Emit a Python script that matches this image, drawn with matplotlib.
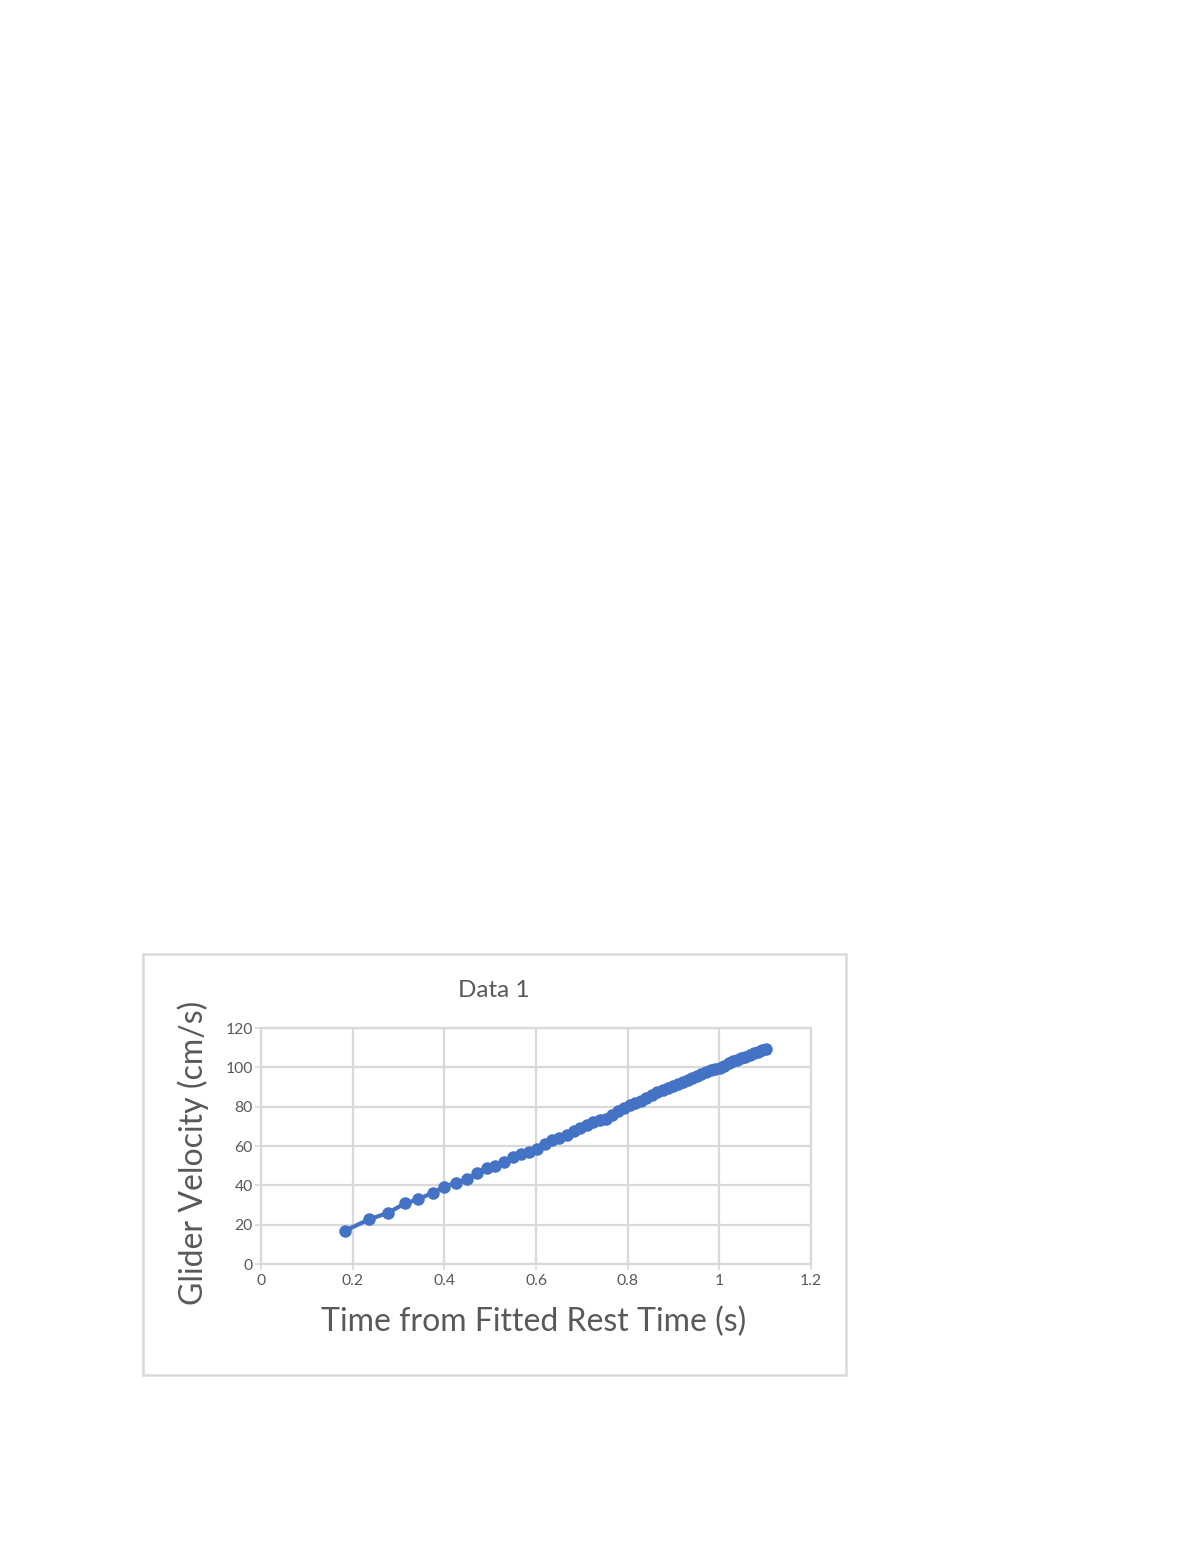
import matplotlib
matplotlib.use("Agg")
import matplotlib.pyplot as plt
from matplotlib.patches import Rectangle

plt.rcParams['font.family'] = ['Lato', 'DejaVu Sans']

time_s = [0.183, 0.236, 0.278, 0.314, 0.343, 0.375, 0.400, 0.425, 0.450, 0.471,
          0.492, 0.511, 0.530, 0.549, 0.567, 0.585, 0.602, 0.619, 0.635, 0.651,
          0.667, 0.682, 0.697, 0.711, 0.725, 0.739, 0.753, 0.766, 0.779, 0.792,
          0.805, 0.817, 0.829, 0.841, 0.853, 0.865, 0.876, 0.887, 0.898, 0.909,
          0.920, 0.931, 0.941, 0.951, 0.961, 0.971, 0.981, 0.991, 1.001, 1.011,
          1.021, 1.030, 1.039, 1.048, 1.057, 1.066, 1.075, 1.084, 1.093, 1.101]
velocity = [16.9, 22.7, 26.1, 30.8, 32.9, 36.3, 39.3, 41.3, 43.0, 46.1,
            48.6, 49.8, 52.0, 54.2, 55.8, 57.2, 58.6, 61.0, 62.8, 64.3,
            65.8, 67.4, 69.0, 70.8, 72.2, 73.4, 73.8, 75.8, 77.6, 79.4,
            81.0, 82.0, 83.0, 84.2, 85.8, 87.6, 88.6, 89.4, 90.4, 91.6,
            92.6, 93.6, 94.8, 95.8, 96.6, 97.4, 98.6, 99.0, 99.8, 100.8,
            102.0, 103.2, 103.8, 104.6, 105.4, 106.2, 107.2, 108.0, 108.8, 109.5]
x_ticks = [0, 0.2, 0.4, 0.6, 0.8, 1, 1.2]
x_tick_labels = ['0', '0.2', '0.4', '0.6', '0.8', '1', '1.2']
y_ticks = [0, 20, 40, 60, 80, 100, 120]

W, H = 1200, 1553
fig = plt.figure(figsize=(12, 15.53), dpi=100)
fig.patch.set_facecolor('white')

# chart frame
frame = Rectangle((143 / W, 1 - 1375 / H), (846 - 143) / W, (1375 - 954) / H,
                  transform=fig.transFigure, fill=False, edgecolor='#d9d9d9', lw=1.8)
fig.add_artist(frame)

ax = fig.add_axes([261 / W, 1 - 1264 / H, 550 / W, 236 / H])
grid_c = '#d9d9d9'
ax.plot(time_s, velocity, color='#4472C4', lw=3, marker='o', markersize=8,
        markeredgecolor='#4472C4', zorder=3, clip_on=False)
ax.set_xlim(0, 1.2)
ax.set_ylim(0, 120)
ax.set_xticks(x_ticks)
ax.set_xticklabels(x_tick_labels)
ax.set_yticks(y_ticks)
ax.grid(True, color=grid_c, lw=1.6)
ax.set_axisbelow(True)
for s in ax.spines.values():
    s.set_color(grid_c)
    s.set_linewidth(1.6)
ax.tick_params(axis='both', colors='#595959', labelsize=11.3, length=4, width=1.2)
ax.tick_params(axis='both', color=grid_c)
ax.tick_params(axis='x', pad=3)
ax.tick_params(axis='y', pad=2)

fig.text(494 / W, 1 - 990 / H, 'Data 1', ha='center', va='center',
         fontsize=17.5, color='#595959')
fig.text(534 / W, 1 - 1322 / H, 'Time from Fitted Rest Time (s)', ha='center',
         va='center', fontsize=23, color='#595959')
fig.text(193 / W, 1 - 1153 / H, 'Glider Velocity (cm/s)', ha='center',
         va='center', fontsize=23, color='#595959', rotation=90)

fig.savefig('out.png', dpi=100, facecolor='white')
